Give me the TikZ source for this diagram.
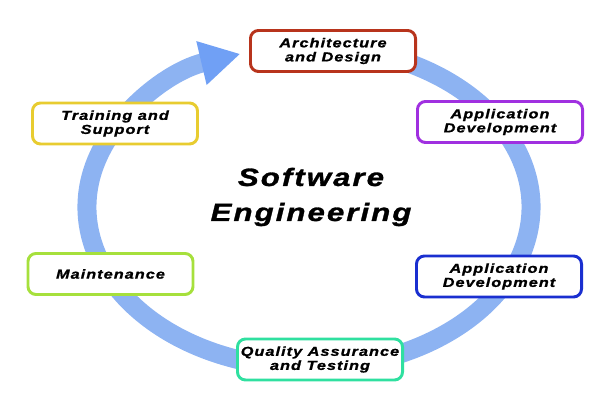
\documentclass[tikz,border=0pt]{standalone}
\usepackage{fontspec}
\newfontfamily\cyclefont[LetterSpace=8,FakeStretch=1.25,BoldItalicFeatures={FakeBold=1.2}]{Liberation Sans}
\usetikzlibrary{arrows.meta, positioning}
\definecolor{ringblue}{RGB}{141,179,242}
\definecolor{headblue}{RGB}{112,160,245}
\definecolor{archred}{RGB}{184,52,28}
\definecolor{trainyellow}{RGB}{232,204,48}
\definecolor{maintgreen}{RGB}{166,224,60}
\definecolor{devpurple}{RGB}{160,48,224}
\definecolor{devblue}{RGB}{26,47,208}
\definecolor{qamint}{RGB}{47,224,160}

\begin{document}
\begin{tikzpicture}[
            x=0.025cm, y=0.025cm,
            phase/.style={
                rectangle, 
                draw, 
                rounded corners=0.2cm, 
                fill=white, 
                line width=2.1pt, 
                minimum width=4.125cm, 
                minimum height=1.025cm, 
                inner sep=0pt, 
                align=center, 
                font=\cyclefont\bfseries\itshape\fontsize{9.25}{10}\selectfont
            },
            title/.style={
                align=center, 
                font=\cyclefont\bfseries\itshape\fontsize{17.8}{24.9}\selectfont
            },
            ring/.style={
                line width=0.475cm, 
                color=ringblue, 
                -{Triangle[length=1cm, width=1.05cm, color=headblue]}
            }
        ]
        \useasboundingbox (0,0) rectangle (600,401);
        
        % Cycle ring behind the phases
        \coordinate (hub) at (309,194);
        \draw[ring] (hub) ++(75:222 and 161) arc[start angle=75, end angle=-252, x radius=222, y radius=161];
        
        % Title Node
        \node (title) [title] at (311,204) {Software\\Engineering};
        
        % Phases of the cycle
        \node (arch) [phase, draw=archred] at (333,350) {Architecture\\and Design};
        \node (devtop) [phase, draw=devpurple] at (500,279) {Application\\Development};
        \node (devlow) [phase, draw=devblue] at (499,124.5) {Application\\Development};
        \node (qa) [phase, draw=qamint] at (320,41.5) {Quality Assurance\\and Testing};
        \node (maint) [phase, draw=maintgreen] at (110.5,127) {Maintenance};
        \node (train) [phase, draw=trainyellow] at (115,277.5) {Training and\\Support};
        
        \end{tikzpicture}
\end{document}
